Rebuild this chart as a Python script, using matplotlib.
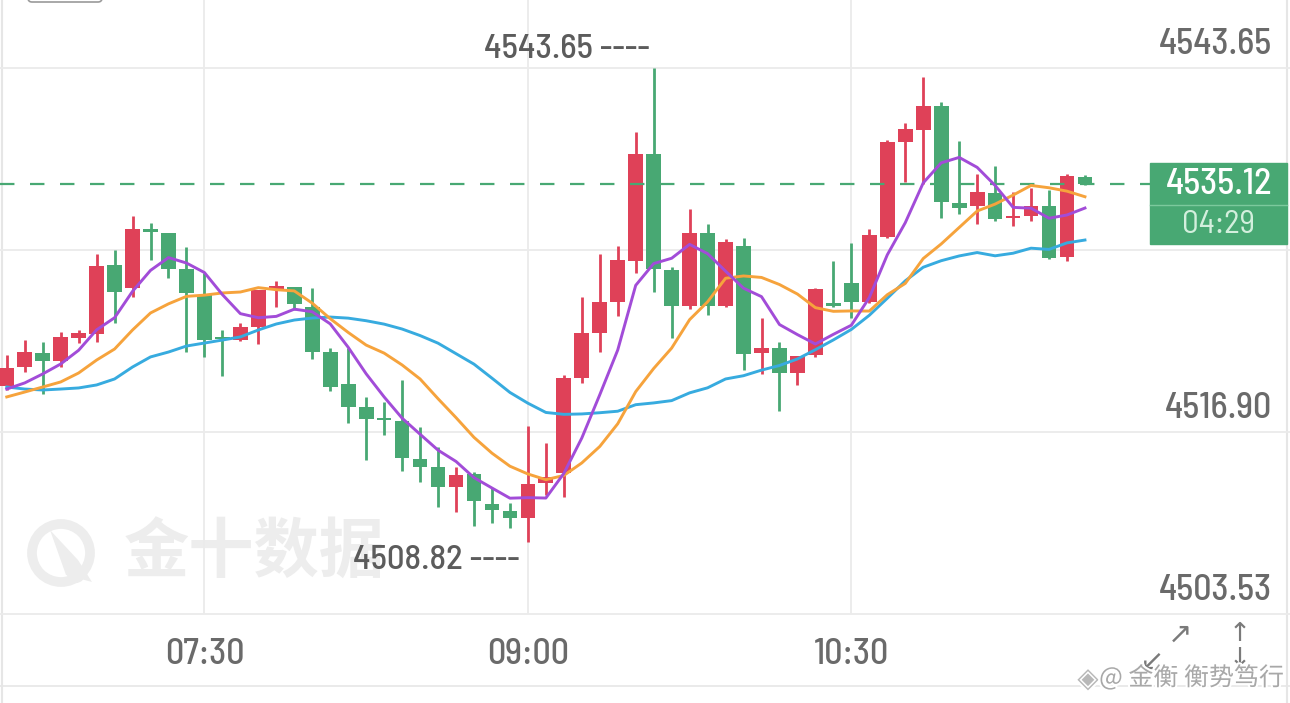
import numpy as np
import matplotlib
matplotlib.use('Agg')
from matplotlib import pyplot as plt
from matplotlib import transforms
from matplotlib.patches import Rectangle, Circle, Polygon, FancyBboxPatch
import matplotlib.patheffects as pe

# 5-minute candles, 06:35 .. 11:35
opens = [4520.28, 4521.68, 4522.71, 4522.12, 4523.81, 4524.11, 4529.18, 4527.49, 4531.82, 4531.53,
         4528.88, 4526.97, 4523.89, 4523.66, 4524.62, 4527.41, 4527.56, 4526.09, 4522.78, 4520.43,
         4518.74, 4517.86, 4517.71, 4514.92, 4514.33, 4512.86, 4513.82, 4511.61, 4511.10, 4510.58,
         4513.16, 4513.89, 4520.87, 4524.18, 4526.46, 4529.47, 4537.33, 4528.81, 4526.16, 4531.53,
         4526.16, 4530.57, 4522.71, 4523.08, 4521.24, 4522.56, 4526.38, 4527.85, 4526.46, 4531.23,
         4538.21, 4539.10, 4540.86, 4533.73, 4533.51, 4534.47, 4532.63, 4532.78, 4533.51, 4529.76,
         4535.64]
highs = [4522.56, 4523.66, 4523.52, 4524.25, 4524.40, 4529.98, 4530.28, 4532.78, 4532.26, 4531.53,
         4530.50, 4528.59, 4524.40, 4524.91, 4527.34, 4528.00, 4527.56, 4527.49, 4523.08, 4523.08,
         4519.48, 4519.11, 4520.73, 4517.27, 4515.80, 4514.33, 4513.96, 4512.79, 4511.69, 4517.34,
         4516.10, 4521.09, 4526.82, 4529.98, 4530.57, 4538.95, 4543.65, 4529.03, 4533.29, 4532.19,
         4531.09, 4531.16, 4525.28, 4523.52, 4522.49, 4527.49, 4529.47, 4530.79, 4531.82, 4538.36,
         4539.61, 4542.99, 4541.15, 4538.29, 4535.86, 4536.45, 4534.54, 4534.83, 4534.69, 4535.86,
         4535.79]
lows = [4519.99, 4521.31, 4519.70, 4521.68, 4523.44, 4523.52, 4524.91, 4526.82, 4529.54, 4528.22,
        4522.78, 4522.42, 4521.02, 4523.59, 4523.37, 4526.09, 4525.87, 4522.27, 4519.92, 4517.57,
        4514.85, 4516.68, 4514.04, 4513.23, 4511.39, 4511.03, 4510.00, 4510.22, 4509.85, 4508.82,
        4512.28, 4512.13, 4520.51, 4522.78, 4525.43, 4528.59, 4527.19, 4523.81, 4525.94, 4525.50,
        4526.09, 4521.46, 4521.17, 4518.45, 4520.36, 4522.42, 4526.09, 4525.28, 4526.38, 4531.16,
        4535.27, 4535.13, 4532.63, 4532.92, 4532.19, 4532.41, 4532.04, 4532.41, 4529.62, 4529.47,
        4535.06]
closes = [4521.61, 4522.78, 4522.12, 4523.89, 4524.18, 4529.10, 4527.19, 4531.82, 4531.60, 4528.88,
          4527.12, 4523.66, 4523.74, 4524.62, 4527.34, 4527.63, 4526.31, 4522.78, 4520.21, 4518.74,
          4517.86, 4517.79, 4514.99, 4514.33, 4512.86, 4513.74, 4511.83, 4511.17, 4510.58, 4513.08,
          4513.60, 4520.87, 4524.18, 4526.46, 4529.54, 4537.33, 4528.88, 4526.16, 4531.53, 4526.16,
          4530.87, 4522.64, 4523.08, 4521.24, 4522.49, 4527.41, 4526.16, 4526.46, 4531.38, 4538.21,
          4539.17, 4540.86, 4533.80, 4533.36, 4534.54, 4532.56, 4532.78, 4533.51, 4529.69, 4535.71,
          4535.12]

# moving averages as shown on the chart (MA5 / MA10 / MA20)
ma5 = [4520.06, 4520.51, 4521.17, 4521.90, 4522.91, 4524.41, 4525.30, 4527.24, 4528.78, 4529.72,
       4529.32, 4528.62, 4527.00, 4525.60, 4525.30, 4525.40, 4525.93, 4525.74, 4524.85, 4523.13,
       4521.18, 4519.48, 4517.92, 4516.74, 4515.57, 4514.74, 4513.55, 4512.79, 4512.04, 4512.08,
       4512.05, 4513.86, 4516.46, 4519.64, 4522.93, 4527.68, 4529.28, 4529.67, 4530.69, 4530.01,
       4528.72, 4527.47, 4526.85, 4524.80, 4524.06, 4523.37, 4524.08, 4524.75, 4526.78, 4529.92,
       4532.28, 4535.21, 4536.68, 4537.08, 4536.35, 4535.02, 4533.41, 4533.35, 4532.61, 4532.85,
       4533.36]
ma10 = [4519.48, 4519.84, 4520.21, 4520.58, 4521.24, 4522.19, 4523.00, 4524.40, 4525.65, 4526.32,
        4526.87, 4526.96, 4527.12, 4527.19, 4527.51, 4527.36, 4527.27, 4526.37, 4525.23, 4524.22,
        4523.29, 4522.70, 4521.83, 4520.80, 4519.35, 4517.96, 4516.51, 4515.35, 4514.39, 4513.82,
        4513.40, 4513.71, 4514.63, 4515.84, 4517.51, 4519.87, 4521.57, 4523.07, 4525.16, 4526.47,
        4528.20, 4528.37, 4528.26, 4527.74, 4527.04, 4526.04, 4525.77, 4525.80, 4525.79, 4526.99,
        4527.82, 4529.65, 4530.72, 4531.93, 4533.14, 4533.65, 4534.31, 4535.02, 4534.85, 4534.60,
        4534.19]
ma20 = [4520.21, 4520.06, 4519.99, 4520.06, 4520.14, 4520.36, 4520.80, 4521.68, 4522.42, 4522.78,
        4523.22, 4523.44, 4523.66, 4523.89, 4524.40, 4524.84, 4525.13, 4525.28, 4525.35, 4525.27,
        4525.08, 4524.83, 4524.47, 4523.99, 4523.43, 4522.66, 4521.89, 4520.86, 4519.81, 4519.02,
        4518.34, 4518.20, 4518.23, 4518.32, 4518.43, 4518.91, 4519.04, 4519.21, 4519.78, 4520.15,
        4520.80, 4521.04, 4521.45, 4521.79, 4522.27, 4522.95, 4523.67, 4524.44, 4525.48, 4526.73,
        4528.01, 4529.01, 4529.49, 4529.84, 4530.09, 4529.85, 4530.04, 4530.41, 4530.32, 4530.80,
        4531.01]

price_ticks = [4543.65, 4530.27, 4516.90, 4503.53]
time_pos = [11, 29, 47]
time_labels = ['07:30', '09:00', '10:30']
countdown = '04:29'

RED = '#df4158'
GREEN = '#48a873'
GRID = '#ebebeb'
TXT = '#6a6a6a'
NUM_FONT = ['Barlow Semi Condensed', 'Roboto Condensed', 'DejaVu Sans']
CJK_FONT = ['Noto Sans CJK SC', 'DejaVu Sans']
NUM_SIZE = 26

fig = plt.figure(figsize=(12.9, 7.03), dpi=100)

# background layer in pixel coordinates (borders, watermark)
deco = fig.add_axes([0, 0, 1, 1], zorder=0)
deco.set_xlim(0, 1290)
deco.set_ylim(703, 0)
deco.axis('off')
deco.patch.set_visible(False)
deco.plot([2, 2], [0, 703], color='#e6e6e6', lw=1.5)
deco.plot([1287, 1287], [0, 703], color='#e6e6e6', lw=1.5)
deco.plot([0, 1290], [686, 686], color='#e6e6e6', lw=1.2)
deco.add_patch(FancyBboxPatch((28, -20), 74, 22, boxstyle='round,pad=0,rounding_size=4',
                              fc='white', ec='#9a9a9a', lw=1.2))
# 金十数据 watermark logo
deco.add_patch(Circle((61, 553), 29, fill=False, ec='#ededed', lw=7))
deco.add_patch(Polygon([[50, 530], [78, 560], [92, 582], [66, 575]], closed=True, fc='#ededed', ec='none'))
deco.add_patch(Circle((76, 574), 9, fc='#ededed', ec='none'))
deco.text(254, 553, '金十数据', ha='center', va='center', fontsize=47, fontweight='bold',
          color='#ededed', family=CJK_FONT)

# main price panel
ax = fig.add_axes([0, 89 / 703, 1, 614 / 703], zorder=1)
ax.set_xlim(-0.376, 71.41)
ax.set_ylim(4503.53, 4548.647)
ax.axis('off')
ax.patch.set_visible(False)

ax_x_data_y = transforms.blended_transform_factory(ax.transAxes, ax.transData)
data_x_ax_y = transforms.blended_transform_factory(ax.transData, ax.transAxes)

for p in price_ticks:
    ax.axhline(p, color=GRID, lw=1.3, zorder=0, clip_on=False)
for t in time_pos:
    ax.axvline(t, color=GRID, lw=1.3, zorder=0)

# candles: red = up, green = down
idx = np.arange(len(closes))
o = np.array(opens)
c = np.array(closes)
colors = np.where(c >= o, RED, GREEN)
body_h = np.maximum(np.abs(c - o), 0.12)
body_lo = np.minimum(o, c)
ax.vlines(idx, lows, highs, colors=colors, lw=2.0, zorder=2)
ax.bar(idx, body_h, bottom=body_lo, width=0.82, color=colors, zorder=3)

# current price dashed line
cur = closes[-1]
box_left = 1150 / 1290
box_right = 1287 / 1290
ax.axhline(cur, xmax=box_left, color=GREEN, lw=1.6, ls=(0, (6.5, 7)), zorder=4)

# moving averages
ax.plot(idx, ma20, color='#37abdf', lw=2.1, zorder=5)
ax.plot(idx, ma10, color='#f6a33c', lw=2.1, zorder=6)
ax.plot(idx, ma5, color='#a24cd8', lw=2.1, zorder=7)

# right side price labels (the one under the price box is hidden)
for p in price_ticks:
    if abs(p - cur) < 6:
        continue
    ax.annotate(f'{p:.2f}', xy=(1272 / 1290, p), xycoords=ax_x_data_y, xytext=(0, 16.8),
                textcoords='offset points', ha='right', va='center', fontsize=NUM_SIZE,
                fontweight='medium', color=TXT, family=NUM_FONT, zorder=8)

# current price box
ax.add_patch(Rectangle((box_left, cur - 4.41), box_right - box_left, 5.95,
                       transform=ax_x_data_y, color=GREEN, zorder=9, clip_on=False))
ax.plot([box_left, box_right], [cur - 1.54, cur - 1.54], transform=ax_x_data_y,
        color='#7cc99d', lw=1, zorder=10, clip_on=False)
ax.text(1219 / 1290, cur, f'{cur:.2f}', transform=ax_x_data_y, ha='center', va='center',
        fontsize=NUM_SIZE, fontweight='medium', color='white', family=NUM_FONT, zorder=11)
ax.text(1219 / 1290, cur - 3.01, countdown, transform=ax_x_data_y, ha='center', va='center',
        fontsize=24, color='#d3efdd', family=NUM_FONT, zorder=11)

# high / low markers
i_hi = int(np.argmax(highs))
i_lo = int(np.argmin(lows))
ax.annotate(f'{highs[i_hi]:.2f} ----', xy=(i_hi, highs[i_hi]), xytext=(-3, 13),
            textcoords='offset points', ha='right', va='center', fontsize=NUM_SIZE - 1,
            fontweight='medium', color='#5c5c5c', family=NUM_FONT, zorder=8)
ax.annotate(f'{lows[i_lo]:.2f} ----', xy=(i_lo, lows[i_lo]), xytext=(-6, -13.5),
            textcoords='offset points', ha='right', va='center', fontsize=NUM_SIZE - 1,
            fontweight='medium', color='#5c5c5c', family=NUM_FONT, zorder=8)

# time axis labels
for t, lab in zip(time_pos, time_labels):
    ax.text(t, -40 / 614, lab, transform=data_x_ax_y, ha='center', va='center',
            fontsize=NUM_SIZE, fontweight='medium', color=TXT, family=NUM_FONT, clip_on=False)

# bottom right icons and watermark
def px(x, y):
    return x / 1290, 1 - y / 703

fig.text(*px(1180, 635), '↗', ha='center', va='center', fontsize=21, color='#7a7a7a')
fig.text(*px(1152, 662), '↙', ha='center', va='center', fontsize=21, color='#7a7a7a')
fig.text(*px(1240, 634), '↑', ha='center', va='center', fontsize=19, color='#7a7a7a')
fig.text(*px(1240, 659), '↓', ha='center', va='center', fontsize=19, color='#7a7a7a')
fig.text(*px(1088, 679), '◈', ha='center', va='center', fontsize=20, color='#b8b8b8',
         path_effects=[pe.withStroke(linewidth=3, foreground='white')])
fig.text(*px(1284, 678), '@ 金衡 衡势笃行', ha='right', va='center', fontsize=18,
         color='#a8a8a8', family=CJK_FONT,
         path_effects=[pe.withStroke(linewidth=3, foreground='white')])

fig.savefig('out.png', dpi=100, facecolor='white')
